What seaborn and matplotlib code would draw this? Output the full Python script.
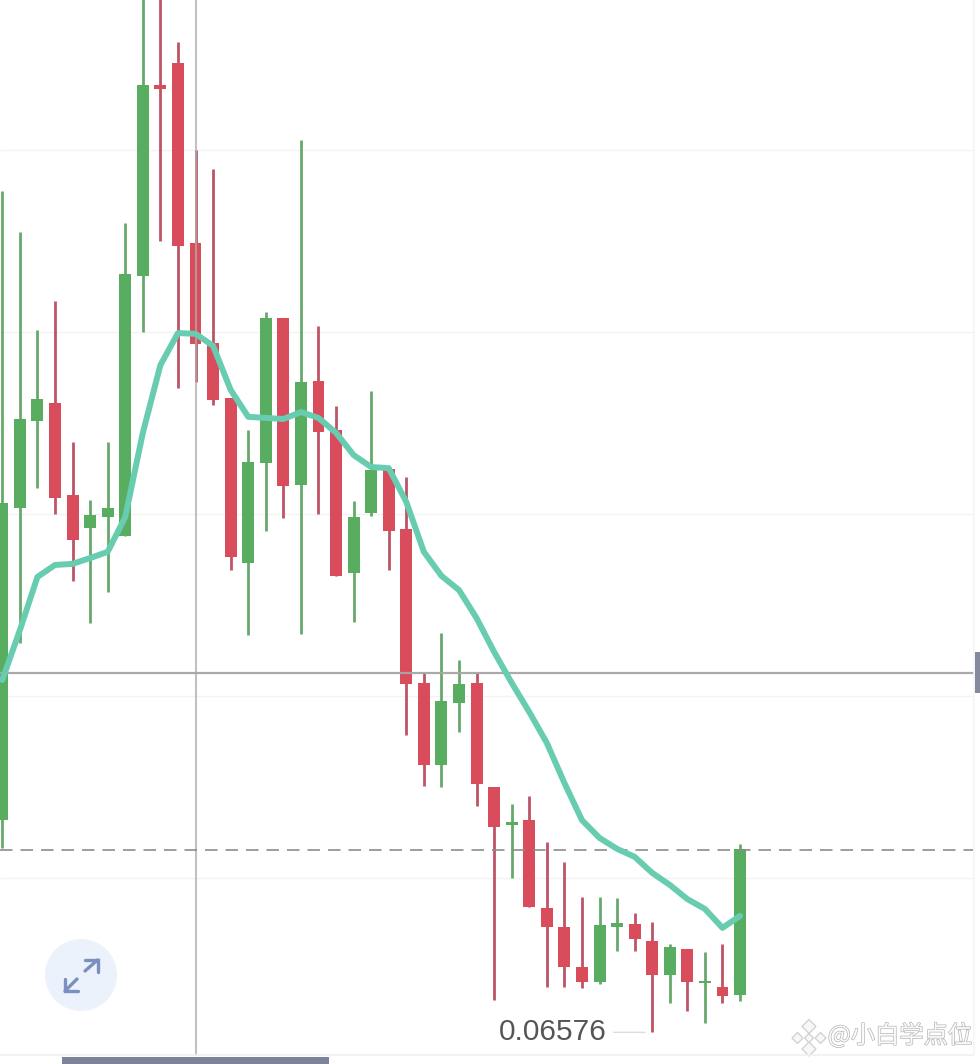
import numpy as np
import pandas as pd
import matplotlib
matplotlib.use("Agg")
import matplotlib.pyplot as plt
from matplotlib.patches import Circle, Rectangle, Polygon
import matplotlib.patheffects as pe
import seaborn as sns

# Prices
opens = [0.07159,0.08017,0.08256,0.08305,0.08052,0.07962,0.07992,0.07940,0.08654,0.09179,0.09239,0.08745,0.08470,0.08319,0.07865,
         0.08140,0.08538,0.08080,0.08365,0.08231,0.07838,0.08003,0.08124,0.07959,0.07536,0.07310,0.07481,0.07536,0.07250,0.07146,
         0.07159,0.06918,0.06865,0.06755,0.06714,0.06865,0.06874,0.06827,0.06734,0.06805,0.06712,0.06701,0.06679]
closes = [0.08030,0.08261,0.08316,0.08044,0.07929,0.07997,0.08017,0.08659,0.09179,0.09168,0.08736,0.08467,0.08313,0.07882,0.08143,
          0.08538,0.08077,0.08363,0.08225,0.07830,0.07992,0.08121,0.07953,0.07533,0.07310,0.07486,0.07533,0.07258,0.07140,0.07154,
          0.06920,0.06865,0.06755,0.06714,0.06871,0.06876,0.06832,0.06734,0.06810,0.06714,0.06717,0.06676,0.07080]
highs = [0.08887,0.08775,0.08506,0.08585,0.08198,0.08038,0.08198,0.08799,0.09500,0.09500,0.09297,0.09000,0.08948,0.08319,0.08231,
         0.08555,0.08538,0.09027,0.08517,0.08297,0.08036,0.08338,0.08132,0.08102,0.07563,0.07673,0.07599,0.07563,0.07250,0.07203,
         0.07225,0.07099,0.07044,0.06948,0.06948,0.06945,0.06904,0.06879,0.06819,0.06805,0.06797,0.06819,0.07093]
lows = [0.07082,0.07646,0.08071,0.08000,0.07816,0.07701,0.07786,0.07940,0.08500,0.08750,0.08346,0.08363,0.08299,0.07846,0.07668,
        0.07953,0.07989,0.07670,0.08000,0.07830,0.07703,0.07995,0.07846,0.07393,0.07253,0.07250,0.07401,0.07198,0.06665,0.07000,
        0.06920,0.06701,0.06701,0.06698,0.06709,0.06799,0.06799,0.06576,0.06657,0.06635,0.06602,0.06657,0.06662]
ma_line = [0.07544,0.07681,0.07827,0.07860,0.07863,0.07879,0.07896,0.07992,0.08223,0.08409,0.08497,0.08495,0.08462,0.08341,0.08267,
           0.08264,0.08261,0.08280,0.08264,0.08223,0.08162,0.08129,0.08126,0.08033,0.07896,0.07830,0.07791,0.07714,0.07621,0.07536,
           0.07456,0.07371,0.07261,0.07159,0.07110,0.07080,0.07058,0.07014,0.06981,0.06942,0.06915,0.06863,0.06896]
grid_levels = [0.07, 0.075, 0.08, 0.085, 0.09]
crosshair_price = 0.07563
crosshair_index = 11
last_price = 0.07077
low_label = "0.06576"
low_index = 37
low_price = 0.06576
watermark = "@小白学点位"

GREEN, GREEN_W = "#58ad60", "#67a86c"
RED, RED_W = "#d84c5b", "#bd5466"
MA = "#68ccb0"

sns.set_theme(style="white")
plt.rcParams["font.family"] = ["Noto Sans CJK SC", "DejaVu Sans"]

df = pd.DataFrame({"i": np.arange(len(opens)), "open": opens, "close": closes,
                   "high": highs, "low": lows, "ma": ma_line})

W, H = 980, 1064
fig = plt.figure(figsize=(W / 100, H / 100), dpi=100, facecolor="white")
ax = fig.add_axes([0, 0, 1, 1])
ax.set_xlim(-0.131, 55.66)
ax.set_ylim(0.06489, 0.094121)
ax.axis("off")

right = 1 - 7 / W
for g in grid_levels:
    ax.axhline(g, xmin=0, xmax=right, color="#f3f3f3", lw=1.0, zorder=1)

up = df["close"] >= df["open"]
for mask, body, wick in [(up, GREEN, GREEN_W), (~up, RED, RED_W)]:
    d = df[mask]
    ax.vlines(d["i"], d["low"], d["high"], color=wick, lw=2.0, zorder=3)
    ax.bar(d["i"], (d["close"] - d["open"]).abs(), bottom=d[["open", "close"]].min(axis=1),
           width=0.68, color=body, linewidth=0, zorder=4)

ax.axvline(crosshair_index, ymin=9 / H, ymax=1, color="#adadad", lw=1.5, alpha=0.75, zorder=5)
ax.axhline(crosshair_price, xmin=0, xmax=right, color="#a6a6a6", lw=1.6, alpha=0.95, zorder=5)
ax.axhline(last_price, xmin=0, xmax=right, color="#8c8c8c", lw=1.2, ls=(0, (7.5, 4.8)), zorder=5)

sns.lineplot(data=df, x="i", y="ma", ax=ax, color=MA, linewidth=4.3, zorder=6,
             errorbar=None, estimator=None, solid_joinstyle="round", solid_capstyle="round")
ax.axis("off")
ax.set_xlim(-0.131, 55.66)
ax.set_ylim(0.06489, 0.094121)

# Lowest-price label with its leader
ax.annotate("", xy=(low_index - 0.4, low_price), xytext=(low_index - 2.2, low_price),
            arrowprops=dict(arrowstyle="-", color="#dddddd", lw=1.0, shrinkA=0, shrinkB=0))
ax.annotate(low_label, xy=(low_index - 2.6, low_price), ha="right", va="center",
            fontsize=21.5, color="#555555", family="Liberation Sans", zorder=7)

# Interface furniture, placed in pixels on a transparent overlay
ov = fig.add_axes([0, 0, 1, 1], facecolor="none")
ov.set_xlim(0, W)
ov.set_ylim(H, 0)
ov.axis("off")
ov.plot([0, 973], [1055, 1055], color="#f0f0f0", lw=1.2)
ov.plot([973.5, 973.5], [0, 1055], color="#f4f5f7", lw=1.2)
ov.add_patch(Rectangle((62, 1057), 267, 7, color="#7d8499", lw=0))
ov.add_patch(Rectangle((975, 652), 5, 41, color="#858b9e", lw=0))
ov.add_patch(Circle((81, 975), 36, color="#ebf2fb", lw=0))
icon = dict(color="#7a90bf", lw=2.4, solid_capstyle="round", solid_joinstyle="miter")
ov.plot([85, 97.5], [971, 960], **icon)
ov.plot([85, 97.5, 97.5], [960, 960, 972], **icon)
ov.plot([77, 65], [979, 991], **icon)
ov.plot([65, 65, 78], [979, 991, 991], **icon)

# Watermark
for cx, cy, r in [(809, 1026.5, 7), (797.5, 1038, 5.5), (820.5, 1038, 5.5), (809, 1049, 7), (809, 1038, 4.5)]:
    ov.add_patch(Polygon([(cx - r, cy), (cx, cy - r), (cx + r, cy), (cx, cy + r)], closed=True,
                         facecolor="#f7f7f7", edgecolor="#cfcfcf", lw=0.9))
ov.text(972, 1036, watermark, ha="right", va="center", fontsize=17.5, color="#fbfbfb",
        family=["Noto Sans CJK SC", "DejaVu Sans"],
        path_effects=[pe.withStroke(linewidth=1.0, foreground="#b5b5b5")])

fig.savefig("out.png", dpi=100)
